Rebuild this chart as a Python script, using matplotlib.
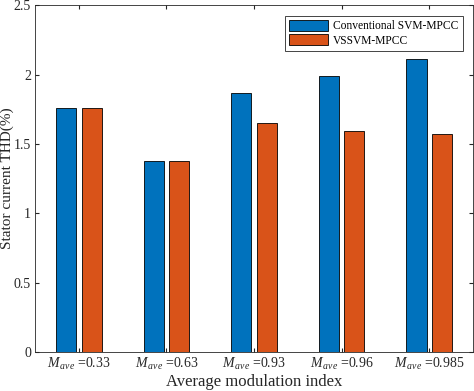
import matplotlib.pyplot as plt
import numpy as np

plt.rcParams['font.family'] = 'Liberation Serif'
plt.rcParams['mathtext.fontset'] = 'custom'
plt.rcParams['mathtext.rm'] = 'Liberation Serif'
plt.rcParams['mathtext.it'] = 'Liberation Serif:italic'

m_ave = ['0.33', '0.63', '0.93', '0.96', '0.985']
thd_conv = [1.76, 1.38, 1.87, 1.99, 2.11]
thd_vssvm = [1.76, 1.38, 1.65, 1.59, 1.57]

fig = plt.figure(figsize=(4.74, 3.91), dpi=100)
ax = fig.add_axes([0.074, 0.0997, 0.924, 0.887])

x = np.arange(1, len(m_ave) + 1)
w = 0.23
ax.bar(x - 0.145, thd_conv, w, color='#0072BD', edgecolor='black', linewidth=0.6,
       label='Conventional SVM-MPCC')
ax.bar(x + 0.145, thd_vssvm, w, color='#D95319', edgecolor='black', linewidth=0.6,
       label='VSSVM-MPCC')

ax.set_xlim(0.5, 5.5)
ax.set_ylim(0, 2.5)
ax.set_yticks([0, 0.5, 1, 1.5, 2, 2.5])
ax.set_yticklabels(['0', '0.5', '1', '1.5', '2', '2.5'])
ax.set_xticks(x)
ax.set_xticklabels([r'$M_{\,ave}$ =' + v for v in m_ave])
ax.tick_params(direction='in', top=True, right=True, labelsize=10, length=3,
               colors='#262626', pad=3)
for s in ax.spines.values():
    s.set_color('#262626')
    s.set_linewidth(0.6)

ax.set_ylabel('Stator current THD(%)', fontsize=11, color='#262626')
ax.yaxis.set_label_coords(-0.048, 0.5)
ax.set_xlabel('Average modulation index', fontsize=12, color='#262626', labelpad=1)

leg = ax.legend(loc='upper right', fontsize=8.3, fancybox=False, framealpha=1,
                edgecolor='#262626', borderaxespad=0.9, handlelength=3.3,
                handleheight=1.1, labelspacing=0.2, borderpad=0.35,
                handletextpad=0.5)
leg.get_frame().set_linewidth(0.6)

plt.savefig('out.png', dpi=100)
